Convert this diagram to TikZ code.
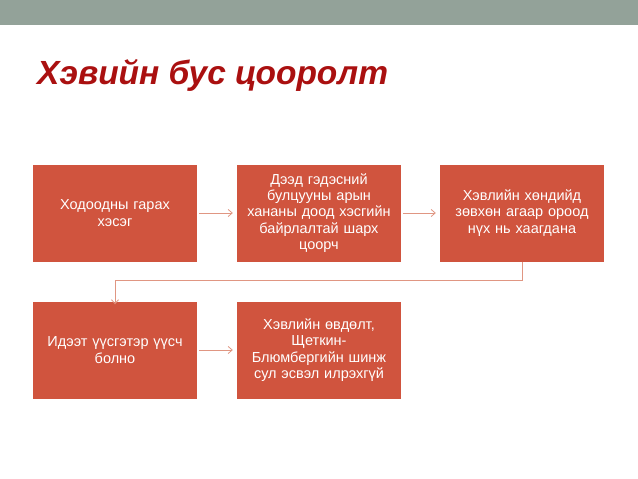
\documentclass[tikz,border=0pt]{standalone}
\usepackage{fontspec}
\setmainfont{Liberation Sans}
\usetikzlibrary{arrows.meta}
\definecolor{barcolor}{RGB}{147,162,153}
\definecolor{titlecolor}{RGB}{170,16,16}
\definecolor{boxcolor}{RGB}{208,84,62}
\definecolor{linkcolor}{RGB}{224,150,130}
\begin{document}
\begin{tikzpicture}[x=1pt, y=-1pt]
  \useasboundingbox (0, 0) rectangle (638, 479);  % Seitenformat.
  \tikzstyle{box}=[rectangle, fill=boxcolor, minimum width=164pt, minimum height=97pt, inner sep=0pt, text width=160pt, align=center, text=white, font=\fontsize{14.5}{16.3}\selectfont]
  \tikzstyle{link}=[draw=linkcolor, line width=0.8pt, -{Straight Barb[length=4pt, width=7pt]}]

  \fill [barcolor] (0, 0) rectangle (638, 25);
  \node[anchor=base west, text=titlecolor, font=\fontsize{33.5}{38}\selectfont\bfseries\itshape, inner sep=0pt] (title) at (37, 84) {Хэвийн бус цооролт};

  \node[box] (1) at (115, 213) {Ходоодны гарах\\хэсэг};
  \node[box] (2) at (319, 213) {Дээд гэдэсний\\булцууны арын\\хананы доод хэсгийн\\байрлалтай шарх\\цоорч};
  \node[box] (3) at (522, 213) {Хэвлийн хөндийд\\зөвхөн агаар ороод\\нүх нь хаагдана};
  \node[box] (4) at (115, 350) {Идээт үүсгэтэр үүсч\\болно};
  \node[box] (5) at (319, 350) {Хэвлийн өвдөлт,\\Щеткин-\\Блюмбергийн шинж\\сул эсвэл илрэхгүй};

  \path[link] ([xshift=2pt]1.east) -- ([xshift=-4pt]2.west);
  \path[link] ([xshift=2pt]2.east) -- ([xshift=-4pt]3.west);
  \path[link] (3.south) -- ++(0, 19) -| ([yshift=-3pt]4.north);
  \path[link] ([xshift=2pt]4.east) -- ([xshift=-4pt]5.west);
\end{tikzpicture}
\end{document}
